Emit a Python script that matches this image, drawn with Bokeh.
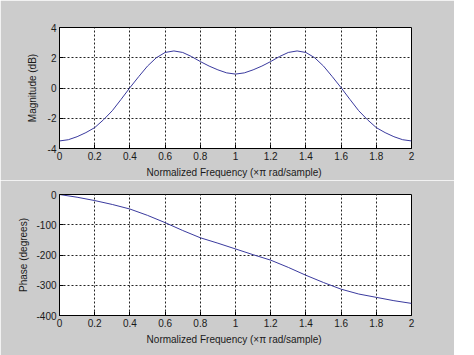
from bokeh.plotting import figure
from bokeh.layouts import column
from bokeh.models import Range1d, FixedTicker
from bokeh.embed import file_html
from bokeh.resources import INLINE

# ---- data ----
freq_mag = [0.00, 0.05, 0.10, 0.15, 0.20, 0.25, 0.30, 0.35, 0.40, 0.45, 0.50,
            0.55, 0.60, 0.65, 0.70, 0.75, 0.80, 0.85, 0.90, 0.95, 1.00,
            1.05, 1.10, 1.15, 1.20, 1.25, 1.30, 1.35, 1.40, 1.45, 1.50,
            1.55, 1.60, 1.65, 1.70, 1.75, 1.80, 1.85, 1.90, 1.95, 2.00]
magnitude_db = [-3.50, -3.42, -3.22, -2.95, -2.62, -2.10, -1.50, -0.75, 0.02, 0.75, 1.45,
                2.00, 2.35, 2.45, 2.35, 2.08, 1.75, 1.45, 1.20, 1.00, 0.92,
                1.00, 1.20, 1.45, 1.75, 2.08, 2.35, 2.45, 2.35, 2.00, 1.45,
                0.75, 0.02, -0.75, -1.50, -2.10, -2.62, -2.95, -3.22, -3.42, -3.50]

freq_phase = [0.0, 0.1, 0.2, 0.3, 0.4, 0.5, 0.6, 0.7, 0.8, 0.9, 1.0,
              1.1, 1.2, 1.3, 1.4, 1.5, 1.6, 1.7, 1.8, 1.9, 2.0]
phase_deg = [0, -9, -20, -33, -48, -69, -93, -119, -143, -161, -180,
             -199, -217, -241, -267, -291, -313, -329, -340, -351, -360]

x_ticks = [0, 0.2, 0.4, 0.6, 0.8, 1, 1.2, 1.4, 1.6, 1.8, 2]
x_tick_labels = ["0", "0.2", "0.4", "0.6", "0.8", "1", "1.2", "1.4", "1.6", "1.8", "2"]
mag_ticks = [-4, -2, 0, 2, 4]
mag_tick_labels = ["-4", "-2", "0", "2", "4"]
phase_ticks = [-400, -300, -200, -100, 0]
phase_tick_labels = ["-400", "-300", "-200", "-100", "0"]

x_label = "Normalized Frequency  (\u00d7\u03c0 rad/sample)"
mag_label = "Magnitude (dB)"
phase_label = "Phase (degrees)"

BG = "#cccccc"
LINE = "#3a3a9e"
FONT = "Liberation Sans"
TXT = "#1a1a1a"


def make_fig(height, y_range, y_ticks, y_labels, y_label, borders, ylab_standoff):
    p = figure(width=454, height=height, output_backend="svg", toolbar_location=None,
               x_range=Range1d(0, 2), y_range=Range1d(*y_range),
               background_fill_color="white", border_fill_color=BG,
               min_border_left=borders[0], min_border_right=borders[1],
               min_border_top=borders[2], min_border_bottom=borders[3])
    p.outline_line_color = "black"
    p.outline_line_width = 1
    p.xaxis.ticker = FixedTicker(ticks=x_ticks)
    p.xaxis.major_label_overrides = {t: l for t, l in zip(x_ticks, x_tick_labels)}
    p.yaxis.ticker = FixedTicker(ticks=y_ticks)
    p.yaxis.major_label_overrides = {t: l for t, l in zip(y_ticks, y_labels)}
    for ax in (p.xaxis, p.yaxis):
        ax.axis_line_color = "black"
        ax.major_tick_in = 4
        ax.major_tick_out = 0
        ax.minor_tick_line_color = None
        ax.major_tick_line_color = "black"
        ax.major_label_text_font = FONT
        ax.major_label_text_font_size = "10px"
        ax.major_label_text_color = TXT
        ax.axis_label_text_font = FONT
        ax.axis_label_text_font_size = "10px"
        ax.axis_label_text_font_style = "normal"
        ax.axis_label_text_color = TXT
        ax.major_label_standoff = 3
    p.xaxis.axis_label = x_label
    p.xaxis.axis_label_standoff = 4
    p.yaxis.axis_label = y_label
    p.yaxis.axis_label_standoff = ylab_standoff
    p.grid.grid_line_color = "#222222"
    p.grid.grid_line_dash = "2 2"
    p.grid.grid_line_width = 1
    return p


p1 = make_fig(180, (-4, 4), mag_ticks, mag_tick_labels, mag_label, (59, 43, 27, 32), 7)
p1.line(freq_mag, magnitude_db, line_color=LINE, line_width=1)

p2 = make_fig(175, (-400, 0), phase_ticks, phase_tick_labels, phase_label, (59, 43, 14, 40), 4)
p2.line(freq_phase, phase_deg, line_color=LINE, line_width=1)

layout = column(p1, p2, spacing=0)
open("out.html", "w").write(file_html(layout, INLINE))
